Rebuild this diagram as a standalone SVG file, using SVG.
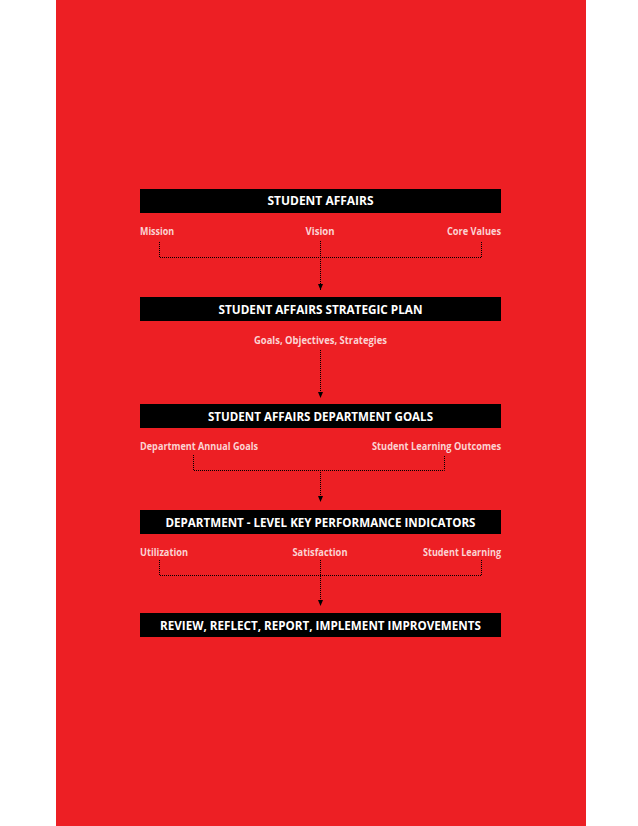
<svg xmlns="http://www.w3.org/2000/svg" width="638" height="826" viewBox="0 0 638 826">
<defs>
<style>
.bg{fill:#ed1f24}
.box rect{fill:#000}
.title{font-family:"Open Sans","Noto Sans",sans-serif;font-weight:bold;font-size:11.5px;fill:#fff;text-anchor:middle}
.sub{font-family:"Open Sans","Noto Sans",sans-serif;font-weight:bold;font-size:10px;fill:#fbd3d3}
.dot{fill:none;stroke:#000;stroke-width:1;stroke-dasharray:1 1}
</style>
<marker id="arr" viewBox="0 0 6 6" refX="6" refY="3" markerWidth="6" markerHeight="6" orient="auto" markerUnits="userSpaceOnUse">
<path d="M0,0.5 L6,3 L0,5.5 Z" fill="#000"/>
</marker>
</defs>
<rect x="0" y="0" width="638" height="826" fill="#fff"/>
<rect class="bg" x="56" y="0" width="530" height="826"/>

<g id="n1" class="box">
<rect x="140" y="189" width="361" height="24"/>
<text class="title" x="320.5" y="205" textLength="106" lengthAdjust="spacingAndGlyphs">STUDENT AFFAIRS</text>
<text class="sub" x="140" y="235" textLength="34" lengthAdjust="spacingAndGlyphs">Mission</text>
<text class="sub" x="320" y="235" text-anchor="middle" textLength="29" lengthAdjust="spacingAndGlyphs">Vision</text>
<text class="sub" x="501" y="235" text-anchor="end" textLength="54" lengthAdjust="spacingAndGlyphs">Core Values</text>
</g>

<g id="n2" class="box">
<rect x="140" y="297" width="361" height="24"/>
<text class="title" x="320.5" y="313.5" textLength="204" lengthAdjust="spacingAndGlyphs">STUDENT AFFAIRS STRATEGIC PLAN</text>
<text class="sub" x="320.5" y="343.5" text-anchor="middle" textLength="133" lengthAdjust="spacingAndGlyphs">Goals, Objectives, Strategies</text>
</g>

<g id="n3" class="box">
<rect x="140" y="404" width="361" height="24"/>
<text class="title" x="320.5" y="420.5" textLength="225" lengthAdjust="spacingAndGlyphs">STUDENT AFFAIRS DEPARTMENT GOALS</text>
<text class="sub" x="140" y="450" textLength="118" lengthAdjust="spacingAndGlyphs">Department Annual Goals</text>
<text class="sub" x="501" y="450" text-anchor="end" textLength="129" lengthAdjust="spacingAndGlyphs">Student Learning Outcomes</text>
</g>

<g id="n4" class="box">
<rect x="140" y="510" width="361" height="24"/>
<text class="title" x="320.5" y="526.5" textLength="310" lengthAdjust="spacingAndGlyphs">DEPARTMENT - LEVEL KEY PERFORMANCE INDICATORS</text>
<text class="sub" x="140" y="555.5" textLength="48" lengthAdjust="spacingAndGlyphs">Utilization</text>
<text class="sub" x="320" y="555.5" text-anchor="middle" textLength="55" lengthAdjust="spacingAndGlyphs">Satisfaction</text>
<text class="sub" x="501" y="555.5" text-anchor="end" textLength="78" lengthAdjust="spacingAndGlyphs">Student Learning</text>
</g>

<g id="n5" class="box">
<rect x="140" y="613" width="361" height="24"/>
<text class="title" x="320.5" y="629.5" textLength="321" lengthAdjust="spacingAndGlyphs">REVIEW, REFLECT, REPORT, IMPLEMENT IMPROVEMENTS</text>
</g>

<g id="connectors">
<path class="dot" d="M159.5,242 V257.5 H481.5 V242"/>
<path class="dot" d="M320.5,241 V290" marker-end="url(#arr)"/>
<path class="dot" d="M320.5,350 V398" marker-end="url(#arr)"/>
<path class="dot" d="M193.5,455 V470.5 H444.5 V455"/>
<path class="dot" d="M320.5,470 V502" marker-end="url(#arr)"/>
<path class="dot" d="M159.5,560 V575.5 H481.5 V560"/>
<path class="dot" d="M320.5,560 V606" marker-end="url(#arr)"/>
</g>
</svg>
